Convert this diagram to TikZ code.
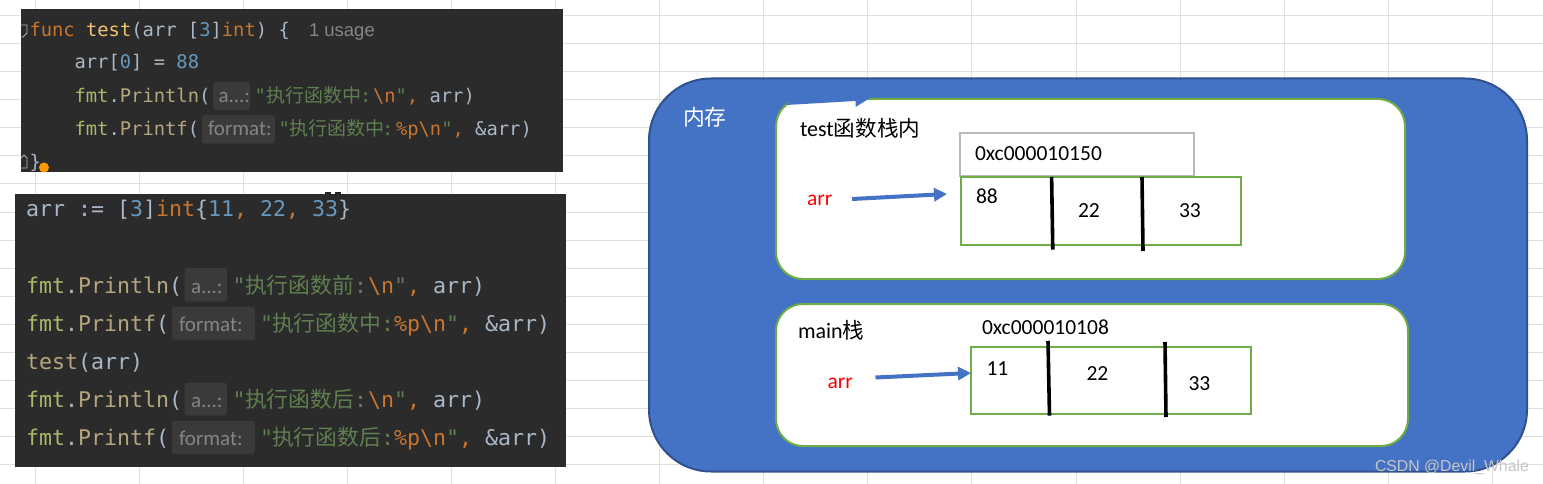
\documentclass[tikz,border=0pt]{standalone}
\usepackage{fontspec}
\setmainfont{Carlito}
\newfontfamily\codefont{DejaVu Sans Mono}
\newfontfamily\cjkfont{Noto Sans CJK SC}
\newfontfamily\wmfont{Liberation Sans}
\definecolor{codebg}{HTML}{2B2B2B}
\definecolor{pillbg}{HTML}{3A3A3A}
\definecolor{hintc}{HTML}{858585}
\definecolor{kwc}{HTML}{C8752E}
\definecolor{fnc}{HTML}{F0C36E}
\definecolor{idc}{HTML}{A9B7C6}
\definecolor{numc}{HTML}{6897BB}
\definecolor{strc}{HTML}{5F7F50}
\definecolor{pkgc}{HTML}{A9B86A}
\definecolor{callc}{HTML}{B5A67E}
\definecolor{gridc}{HTML}{E0E0E0}
\definecolor{memfill}{HTML}{4472C4}
\definecolor{memline}{HTML}{2F528F}
\definecolor{stackline}{HTML}{70AD47}
\newcommand{\kw}[1]{\textcolor{kwc}{#1}}
\newcommand{\fn}[1]{\textcolor{fnc}{#1}}
\newcommand{\nm}[1]{\textcolor{numc}{#1}}
\newcommand{\pk}[1]{\textcolor{pkgc}{#1}}
\newcommand{\cl}[1]{\textcolor{callc}{#1}}
\tikzset{
  tok/.style={inner sep=0pt,outer sep=0pt,anchor=base west},
  codeS/.style={tok,text=idc,font=\codefont\fontsize{18.8}{20}\selectfont},
  codeL/.style={tok,text=idc,font=\codefont\fontsize{21.6}{24}\selectfont},
  strS/.style={tok,text=strc,font=\cjkfont\fontsize{19}{22}\selectfont},
  strL/.style={tok,text=strc,font=\cjkfont\fontsize{21.8}{24}\selectfont},
  hint/.style={tok,text=hintc,font=\fontsize{21}{24}\selectfont},
  pill/.style={fill=pillbg,rounded corners=3pt,draw=none},
  labeltxt/.style={tok,text=black,font=\fontsize{21.5}{24}\selectfont},
  arrname/.style={tok,text=red,font=\fontsize{21.5}{24}\selectfont},
  grid line/.style={draw=gridc,line width=1pt},
  stackbox/.style={draw=stackline,line width=2pt,fill=white,rounded corners=27pt},
  cellbox/.style={draw=stackline,line width=2pt,fill=white,outer sep=0pt},
  divider/.style={draw=black,line width=3.6pt},
  ptr/.style={draw=memfill,line width=4pt,-{Triangle[length=13pt,width=13pt]}},
}
\usetikzlibrary{arrows.meta}
\begin{document}
\begin{tikzpicture}[x=1pt,y=-1pt]
\useasboundingbox (0,0) rectangle (1543,484);
\fill[white] (0,0) rectangle (1543,484);
% spreadsheet grid
\foreach \gx in {35,139.1,243.2,347.3,451.4,555.5,659.6,763.7,867.8,971.9,1076,1180.1,1284.2,1388.3,1492.4}
  \draw[grid line] (\gx,0) -- (\gx,484);
\foreach \gy in {16,44,72,100,128,156,184,212,240,268,296,324,352,380,408,436,464}
  \draw[grid line] (0,\gy) -- (1543,\gy);

% ---- top code panel
\fill[codebg] (21,9) rectangle (563,172);
\draw[draw=hintc!60,line width=.8pt] (21,25) -- (27,25) -- (27,33) -- (23,37) -- (21,37);
\draw[draw=hintc!60,line width=.8pt] (21,158) -- (24,155) -- (27,158) -- (27,168) -- (21,168);
\node[codeS] (t1) at (29.5,36.7) {\kw{func} \fn{test}(arr [\nm{3}]\kw{int}) \{};
\node[tok,text=hintc,font=\wmfont\fontsize{18.5}{20}\selectfont] (t1u) at (309,36.7) {1 usage};
\node[codeS] (t2) at (74.6,69) {arr[\nm{0}] = \nm{88}};
\node[codeS] (t3a) at (74.6,103) {\pk{fmt}.\cl{Println}(};
\draw[pill] (213,82) rectangle (250,110);
\node[hint] (t3h) at (218.5,103) {a...:};
\node[codeS,text=strc] (t3q) at (254.5,103) {"};
\node[strS] (t3s) at (266,103) {执行函数中};
\node[codeS,text=strc] (t3c) at (360,103) {:};
\node[codeS] (t3r) at (373,103) {\kw{\textbackslash n}\textcolor{strc}{"}\kw{,} arr)};
\node[codeS] (t4a) at (74.6,136) {\pk{fmt}.\cl{Printf}(};
\draw[pill] (202,115) rectangle (275,143.7);
\node[hint] (t4h) at (208,136) {format:};
\node[codeS,text=strc] (t4q) at (278.6,136) {"};
\node[strS] (t4s) at (289,136) {执行函数中};
\node[codeS,text=strc] (t4c) at (382,136) {:};
\node[codeS] (t4r) at (396,136) {\kw{\%p\textbackslash n}\textcolor{strc}{"}\kw{,} \&arr)};
\node[codeS] (t5) at (29.5,168.5) {\}};
\fill[orange!80!yellow] (44,167.5) circle (5);

% ---- bottom code panel
\fill[black!85] (325,192) rectangle (331,194);
\fill[black!85] (335,192) rectangle (341,194);
\fill[codebg] (15,194) rectangle (566,467);
\node[codeL] (b1) at (26,216.7) {arr := [\nm{3}]\kw{int}\{\nm{11}\kw{,} \nm{22}\kw{,} \nm{33}\}};
% line Println before
\node[codeL] (b2a) at (26,293) {\pk{fmt}.\cl{Println}(};
\draw[pill] (184.5,268) rectangle (227,301.7);
\node[hint] (b2h) at (191,293) {a...:};
\node[codeL,text=strc] (b2q) at (232.7,293) {"};
\node[strL] (b2s) at (245,293) {执行函数前};
\node[codeL,text=strc] (b2c) at (354,293) {:};
\node[codeL] (b2r) at (368,293) {\kw{\textbackslash n}\textcolor{strc}{"}\kw{,} arr)};
% line Printf
\node[codeL] (b3a) at (26,331.7) {\pk{fmt}.\cl{Printf}(};
\draw[pill] (172,306.7) rectangle (255,340);
\node[hint] (b3h) at (179,331.7) {format:};
\node[codeL,text=strc] (b3q) at (260,331.7) {"};
\node[strL] (b3s) at (272,331.7) {执行函数中};
\node[codeL,text=strc] (b3c) at (381,331.7) {:};
\node[codeL] (b3r) at (394,331.7) {\kw{\%p\textbackslash n}\textcolor{strc}{"}\kw{,} \&arr)};
% call
\node[codeL] (b4) at (26,369) {\cl{test}(arr)};
% line Println after
\node[codeL] (b5a) at (26,407.7) {\pk{fmt}.\cl{Println}(};
\draw[pill] (184.5,382.7) rectangle (227,415.7);
\node[hint] (b5h) at (191,407.7) {a...:};
\node[codeL,text=strc] (b5q) at (232.7,407.7) {"};
\node[strL] (b5s) at (245,407.7) {执行函数后};
\node[codeL,text=strc] (b5c) at (354,407.7) {:};
\node[codeL] (b5r) at (368,407.7) {\kw{\textbackslash n}\textcolor{strc}{"}\kw{,} arr)};
% line Printf after
\node[codeL] (b6a) at (26,445.7) {\pk{fmt}.\cl{Printf}(};
\draw[pill] (172,421) rectangle (255,454);
\node[hint] (b6h) at (179,445.7) {format:};
\node[codeL,text=strc] (b6q) at (260,445.7) {"};
\node[strL] (b6s) at (272,445.7) {执行函数后};
\node[codeL,text=strc] (b6c) at (381,445.7) {:};
\node[codeL] (b6r) at (394,445.7) {\kw{\%p\textbackslash n}\textcolor{strc}{"}\kw{,} \&arr)};

% ---- memory block
\draw[draw=memline,line width=2pt,fill=memfill,rounded corners=62pt] (649,78.5) rectangle (1527,471.5);
\node[tok,text=white,font=\cjkfont\fontsize{21.8}{24}\selectfont] (mem) at (683,126) {内存};

% ---- test stack
\draw[stackbox] (776,99) rectangle (1405,279);
\fill[memfill] (786,105) -- (855.5,101) -- (855.5,107) -- (870,98) -- (850,96) -- (795,96.5) -- cycle;
\node[tok,text=black] (teststack) at (800,136.7) {\fontsize{22}{24}\selectfont test\cjkfont\fontsize{21.6}{24}\selectfont 函数栈内};
\node[draw=black!28,line width=2pt,fill=white,minimum width=234pt,minimum height=43pt,anchor=north west,inner sep=0pt,outer sep=0pt] (addr1box) at (960,133) {};
\node[labeltxt] (addr1) at (975,160.7) {0xc000010150};
\node[cellbox,minimum width=280.4pt,minimum height=67.7pt,anchor=north west,inner sep=0pt] (cells1) at (961,177) {};
\coordinate (d1a) at (1051.6,177); \coordinate (d1b) at (1052.8,249.6);
\coordinate (d2a) at (1142,177); \coordinate (d2b) at (1143,251);
\draw[divider] (d1a) -- (d1b);
\draw[divider] (d2a) -- (d2b);
\node[labeltxt] (v88) at (976,204) {88};
\node[labeltxt] (v22a) at (1078,218) {22};
\node[labeltxt] (v33a) at (1179,218) {33};
\node[arrname] (arr1) at (807,205.7) {arr};
\coordinate (p1a) at (852,199); \coordinate (p1b) at (947,194);
\draw[ptr] (p1a) -- (p1b);

% ---- main stack
\draw[stackbox] (776,304) rectangle (1408,446);
\node[tok,text=black] (mainstack) at (798,338.7) {\fontsize{22}{24}\selectfont main\cjkfont\fontsize{21.6}{24}\selectfont 栈};
\node[labeltxt] (addr2) at (982,334) {0xc000010108};
\node[cellbox,minimum width=280pt,minimum height=67.3pt,anchor=north west,inner sep=0pt] (cells2) at (971,346.7) {};
\coordinate (d3a) at (1048,341); \coordinate (d3b) at (1049.5,415.6);
\coordinate (d4a) at (1165,342); \coordinate (d4b) at (1166,417);
\draw[divider] (d3a) -- (d3b);
\draw[divider] (d4a) -- (d4b);
\node[labeltxt] (v11) at (986.5,375) {11};
\node[labeltxt] (v22b) at (1086.5,380) {22};
\node[labeltxt] (v33b) at (1188.5,390) {33};
\node[arrname] (arr2) at (827.5,388) {arr};
\coordinate (p2a) at (875.5,377.5); \coordinate (p2b) at (971,373);
\draw[ptr] (p2a) -- (p2b);

% watermark
\node[tok,text=white!78!black,font=\wmfont\fontsize{15.8}{18}\selectfont] (wm) at (1375,471) {CSDN @Devil\_Whale};
\end{tikzpicture}
\end{document}
